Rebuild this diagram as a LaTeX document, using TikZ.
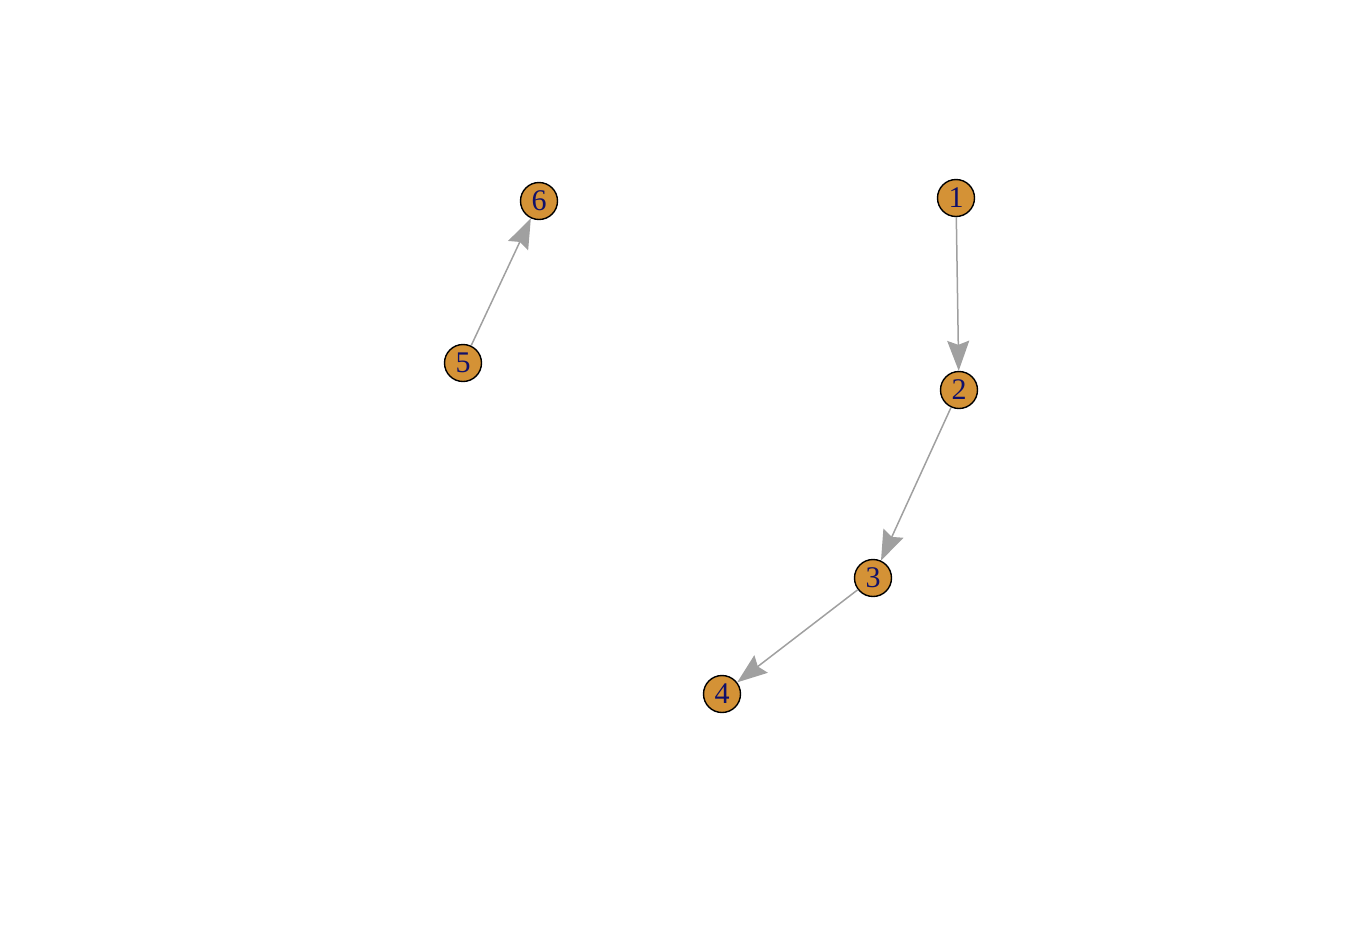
\documentclass[tikz,border=0pt]{standalone}
\usepackage{fontspec}
\setmainfont{Liberation Serif}
\usetikzlibrary{arrows.meta}
\definecolor{vfill}{HTML}{D49236}
\definecolor{vlabel}{HTML}{10106A}
\definecolor{edgegray}{HTML}{A0A0A0}
\tikzset{
  vertex/.style={circle, draw=black, line width=1.4pt, fill=vfill, minimum size=37pt, inner sep=0pt, text=vlabel, font=\fontsize{30}{30}\selectfont},
  edge/.style={draw=edgegray, line width=1.5pt, -{Stealth[length=30pt, width=22pt, inset=4pt]}, shorten >=0pt}
}
\begin{document}
\begin{tikzpicture}[x=1pt, y=-1pt]
\useasboundingbox (0,0) rectangle (1346,930);
\node[vertex] (n1) at (956,198) {1};
\node[vertex] (n2) at (959,390) {2};
\node[vertex] (n3) at (873,578) {3};
\node[vertex] (n4) at (722,694) {4};
\node[vertex] (n5) at (463,363) {5};
\node[vertex] (n6) at (539,201) {6};
\draw[edge] (n1) -- (n2);
\draw[edge] (n2) -- (n3);
\draw[edge] (n3) -- (n4);
\draw[edge] (n5) -- (n6);
\end{tikzpicture}
\end{document}
